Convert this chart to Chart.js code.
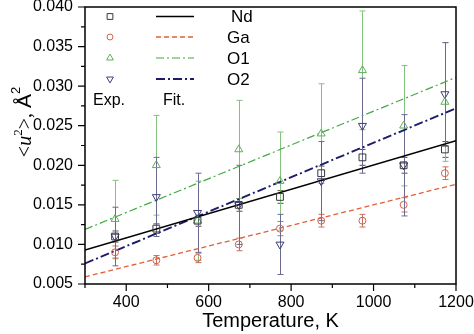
<!DOCTYPE html>
<html>
<head>
<meta charset="utf-8">
<script src="https://cdn.jsdelivr.net/npm/chart.js@4.4.1/dist/chart.umd.min.js"></script>
<style>
  html, body { margin: 0; padding: 0; background: #fff; }
  #wrap { width: 474px; height: 334px; position: relative; }
</style>
</head>
<body>
<div id="wrap"><canvas id="chart"></canvas></div>
<script>
// measurement temperatures (K)
const temps = [373, 473, 573, 673, 773, 873, 973, 1073, 1173]

// experimental <u^2> values and their error bars
const ndU   = [0.011, 0.012, 0.013, 0.015, 0.016, 0.019, 0.021, 0.020, 0.022]
const ndErr = [0.0007, 0.0006, 0.0007, 0.0008, 0.0008, 0.0009, 0.0010, 0.0010, 0.0010]
const gaU   = [0.009, 0.008, 0.0083, 0.010, 0.012, 0.013, 0.013, 0.015, 0.019]
const gaErr = [0.0008, 0.0006, 0.0006, 0.0008, 0.0009, 0.0008, 0.0008, 0.0009, 0.0008]
const o1U   = [0.0132, 0.020, 0.013, 0.022, 0.018, 0.024, 0.032, 0.025, 0.028]
const o1Err = [0.0049, 0.0063, 0.005, 0.0062, 0.0062, 0.0063, 0.0075, 0.0076, 0.0075]
const o2U   = [0.011, 0.016, 0.014, 0.015, 0.010, 0.018, 0.025, 0.020, 0.029]
const o2Err = [0.0037, 0.005, 0.005, 0.005, 0.0038, 0.005, 0.006, 0.0064, 0.0065]

// linear fits, end points at 300 K and 1200 K
const fitT  = [300, 1200]
const ndFit = [0.0093, 0.0231]
const gaFit = [0.0059, 0.0176]
const o1Fit = [0.0119, 0.0311]
const o2Fit = [0.0076, 0.0272]

const species = ['Nd', 'Ga', 'O1', 'O2']
const xTickValues = [400, 600, 800, 1000, 1200]
const xMinorValues = [300, 500, 700, 900, 1100]

const pts = (xs, ys) => xs.map((x, i) => ({ x: x, y: ys[i] }))

const colors = {
  Nd: { mark: '#383838', bar: '#505050', line: '#000000' },
  Ga: { mark: '#d0604a', bar: '#c87060', line: '#e0603a' },
  O1: { mark: '#5fae5a', bar: '#84c07e', line: '#45a845' },
  O2: { mark: '#3c3c78', bar: '#6a6a90', line: '#1c1c6a' }
}
const styles = {
  Nd: { pointStyle: 'rect', radius: 4.8, rotation: 0, dash: [] , width: 1.6},
  Ga: { pointStyle: 'circle', radius: 3.5, rotation: 0, dash: [5, 3], width: 1.3 },
  O1: { pointStyle: 'triangle', radius: 4.6, rotation: 0, dash: [8, 3, 2, 3], width: 1.2 },
  O2: { pointStyle: 'triangle', radius: 4.6, rotation: 180, dash: [9, 3, 2, 3], width: 1.9 }
}

function expSet(name, ys, errs) {
  const s = styles[name], c = colors[name]
  return {
    label: name,
    data: pts(temps, ys),
    errors: errs,
    errColor: c.bar,
    showLine: false,
    pointStyle: s.pointStyle,
    rotation: s.rotation,
    pointRadius: s.radius,
    pointBorderWidth: 1,
    pointBorderColor: c.mark,
    pointBackgroundColor: 'rgba(255,255,255,0)'
  }
}
function fitSet(name, ys) {
  const s = styles[name], c = colors[name]
  return {
    label: name + ' fit',
    data: pts(fitT, ys),
    showLine: true,
    borderColor: c.line,
    borderWidth: s.width,
    borderDash: s.dash,
    pointRadius: 0
  }
}

function markPath(ctx, style, r, rot, x, y) {
  ctx.beginPath()
  if (style === 'rect') {
    const h = r * Math.SQRT1_2
    ctx.rect(x - h, y - h, 2 * h, 2 * h)
  } else if (style === 'circle') {
    ctx.arc(x, y, r, 0, Math.PI * 2)
  } else {
    const a0 = rot * Math.PI / 180
    for (let k = 0; k < 3; k++) {
      const a = a0 - Math.PI / 2 + k * 2 * Math.PI / 3
      const px = x + Math.cos(a) * r, py = y + Math.sin(a) * r
      if (k === 0) ctx.moveTo(px, py); else ctx.lineTo(px, py)
    }
    ctx.closePath()
  }
  ctx.stroke()
}

const decor = {
  id: 'decor',
  beforeDatasetsDraw(chart) {
    const ctx = chart.ctx
    const xs = chart.scales.x, ys = chart.scales.y
    ctx.save()
    ctx.lineWidth = 1
    chart.data.datasets.forEach(ds => {
      if (!ds.errors) return
      ctx.strokeStyle = ds.errColor
      ds.data.forEach((p, i) => {
        const px = Math.round(xs.getPixelForValue(p.x)) + 0.5
        const top = ys.getPixelForValue(p.y + ds.errors[i])
        const bot = ys.getPixelForValue(p.y - ds.errors[i])
        ctx.beginPath()
        ctx.moveTo(px, top); ctx.lineTo(px, bot)
        ctx.moveTo(px - 3, top); ctx.lineTo(px + 3, top)
        ctx.moveTo(px - 3, bot); ctx.lineTo(px + 3, bot)
        ctx.stroke()
      })
    })
    ctx.restore()
  },
  afterDraw(chart) {
    const ctx = chart.ctx
    const a = chart.chartArea
    const xs = chart.scales.x, ys = chart.scales.y
    ctx.save()
    // frame
    ctx.strokeStyle = '#000'
    ctx.lineWidth = 1.5
    ctx.strokeRect(a.left, a.top, a.right - a.left, a.bottom - a.top)
    // ticks, outward
    ctx.lineWidth = 1.2
    ctx.beginPath()
    xTickValues.forEach(v => {
      const p = xs.getPixelForValue(v)
      ctx.moveTo(p, a.bottom); ctx.lineTo(p, a.bottom + 7)
    })
    xMinorValues.forEach(v => {
      const p = xs.getPixelForValue(v)
      ctx.moveTo(p, a.bottom); ctx.lineTo(p, a.bottom + 4)
    })
    for (let v = 0.005; v <= 0.04001; v += 0.0025) {
      const p = ys.getPixelForValue(v)
      const major = Math.abs(Math.round(v / 0.005) * 0.005 - v) < 1e-6
      ctx.moveTo(a.left, p); ctx.lineTo(a.left - (major ? 7 : 4), p)
    }
    ctx.stroke()

    // legend inside the plot
    const rowsY = [16.5, 37, 58, 79]
    species.forEach((name, i) => {
      const s = styles[name], c = colors[name]
      const y = rowsY[i]
      ctx.lineWidth = 1
      ctx.strokeStyle = c.mark
      ctx.setLineDash([])
      markPath(ctx, s.pointStyle, s.radius * 0.85, s.rotation, 110, y)
      ctx.strokeStyle = c.line
      ctx.lineWidth = s.width
      ctx.setLineDash(s.dash)
      ctx.beginPath()
      ctx.moveTo(156, y); ctx.lineTo(194, y)
      ctx.stroke()
      ctx.setLineDash([])
      ctx.fillStyle = '#000'
      ctx.font = '17px "Liberation Sans", Arial, sans-serif'
      ctx.textBaseline = 'middle'
      ctx.textAlign = 'left'
      ctx.fillText(name, name === 'Nd' ? 231 : 227, y + 1)
    })
    ctx.font = '16px "Liberation Sans", Arial, sans-serif'
    ctx.fillText('Exp.', 93, 101)
    ctx.fillText('Fit.', 163, 101)

    // y axis title: <u²>, Å²
    ctx.translate(31, 122)
    ctx.rotate(-Math.PI / 2)
    ctx.textBaseline = 'alphabetic'
    const parts = [
      { t: '<', f: '20px "Liberation Serif", serif', dy: 0 },
      { t: 'u', f: 'italic 20px "Liberation Serif", serif', dy: 0 },
      { t: '2', f: '13px "Liberation Serif", serif', dy: -9 },
      { t: '>, ', f: '20px "Liberation Serif", serif', dy: 0 },
      { t: 'Å', f: '21px "Liberation Sans", sans-serif', dy: 0 },
      { t: '2', f: '13px "Liberation Sans", sans-serif', dy: -11 }
    ]
    let total = 0
    parts.forEach(p => { ctx.font = p.f; p.w = ctx.measureText(p.t).width; total += p.w })
    let x = -total / 2
    parts.forEach(p => {
      ctx.font = p.f
      ctx.fillText(p.t, x, p.dy)
      x += p.w
    })
    ctx.restore()
  }
}

const ctx = document.getElementById('chart').getContext('2d')
new Chart(ctx, {
  type: 'scatter',
  data: {
    datasets: [
      expSet('Nd', ndU, ndErr),
      expSet('Ga', gaU, gaErr),
      expSet('O1', o1U, o1Err),
      expSet('O2', o2U, o2Err),
      fitSet('Nd', ndFit),
      fitSet('Ga', gaFit),
      fitSet('O1', o1Fit),
      fitSet('O2', o2Fit)
    ]
  },
  options: {
    responsive: true,
    maintainAspectRatio: false,
    animation: false,
    layout: { padding: { left: 0, right: 18, top: 7, bottom: 0 } },
    scales: {
      x: {
        type: 'linear',
        min: 300,
        max: 1200,
        grid: { display: false, drawTicks: false },
        border: { display: false },
        afterBuildTicks: s => { s.ticks = xTickValues.map(v => ({ value: v })) },
        afterFit: s => { s.height = 50; s.paddingLeft = 0; s.paddingRight = 0 },
        ticks: {
          padding: 9,
          color: '#000',
          font: { family: '"Liberation Sans", Arial, sans-serif', size: 16 },
          maxRotation: 0,
          callback: v => String(v)
        },
        title: {
          display: true,
          text: 'Temperature, K',
          color: '#000',
          font: { family: '"Liberation Sans", Arial, sans-serif', size: 20 },
          padding: { top: 0, bottom: 1 }
        }
      },
      y: {
        min: 0.005,
        max: 0.04,
        grid: { display: false, drawTicks: false },
        border: { display: false },
        afterFit: s => { s.width = 85; s.paddingTop = 0; s.paddingBottom = 0 },
        ticks: {
          stepSize: 0.005,
          padding: 12,
          color: '#000',
          font: { family: '"Liberation Sans", Arial, sans-serif', size: 16 },
          callback: v => v.toFixed(3)
        }
      }
    },
    plugins: {
      legend: { display: false },
      tooltip: { enabled: false }
    }
  },
  plugins: [decor]
})
</script>
</body>
</html>
